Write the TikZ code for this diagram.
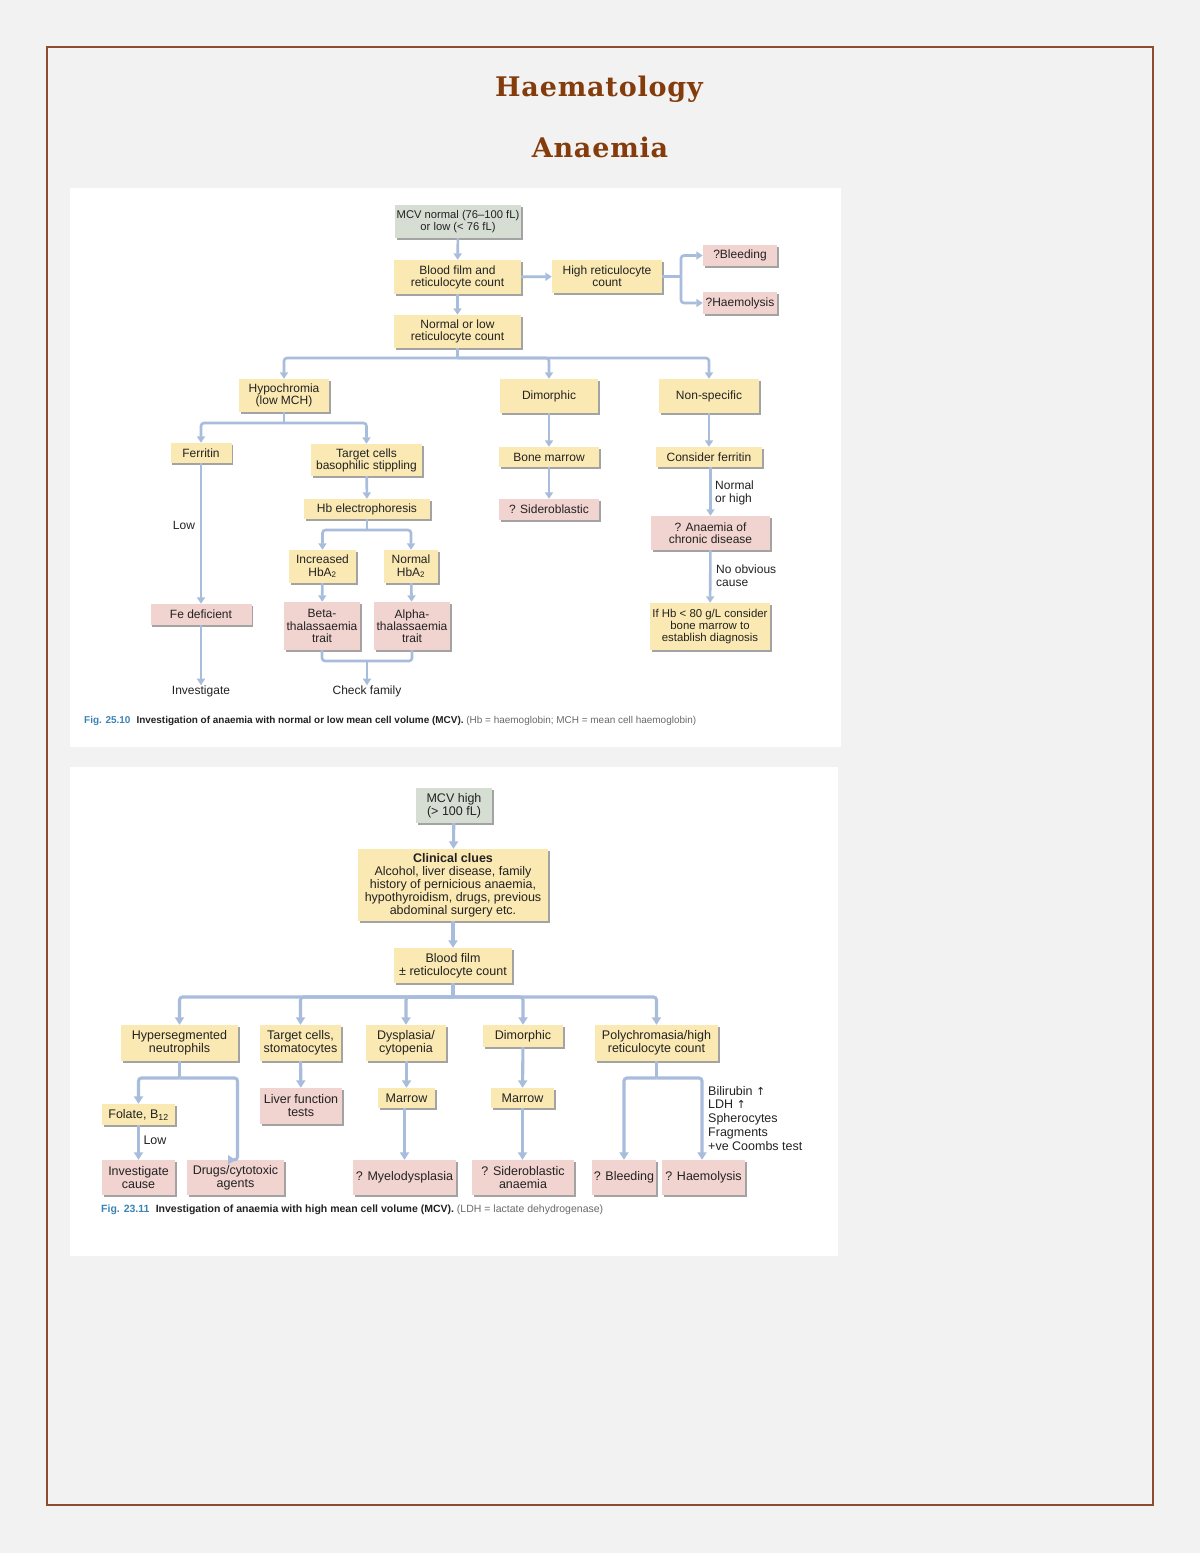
\documentclass[tikz,border=0pt]{standalone}
\usepackage{fontspec}
\setmainfont{Liberation Sans}
\newfontfamily\titlefont{DejaVu Serif}[LetterSpace=3]
\newfontfamily\dejavu{DejaVu Sans}
\usetikzlibrary{arrows.meta,shadows,calc}
\definecolor{bgc}{HTML}{F2F2F2}
\definecolor{brd}{HTML}{8E4B2E}
\definecolor{ttl}{HTML}{843C0C}
\definecolor{greyf}{HTML}{D6DED4}
\definecolor{yelf}{HTML}{FBE9B3}
\definecolor{pinkf}{HTML}{F1D3D0}
\definecolor{arrc}{HTML}{A8BCDC}
\definecolor{capb}{HTML}{3A84B5}
\definecolor{capg}{HTML}{6A6A6A}
\definecolor{txt}{HTML}{222222}
\tikzset{
  bx/.style={inner sep=1pt, align=center, text=txt, font=\fontsize{12}{12.2}\selectfont,
    drop shadow={shadow xshift=1.6pt, shadow yshift=-1.6pt, fill=black!45, opacity=0.8}},
  bxl/.style={bx, font=\fontsize{12.5}{13}\selectfont},
  gb/.style={fill=greyf}, yb/.style={fill=yelf}, pb/.style={fill=pinkf},
  sz/.style 2 args={minimum width=#1, minimum height=#2},
  lbl/.style={inner sep=0pt, align=left, text=txt, font=\fontsize{12}{12.5}\selectfont},
  lbll/.style={lbl, font=\fontsize{12.5}{13.5}\selectfont},
  ln/.style={draw=arrc, line width=2.6pt, rounded corners=3pt},
  arr/.style={ln, -{Triangle[length=6.5pt,width=8pt]}},
  lnl/.style={draw=arrc, line width=3.1pt, rounded corners=3pt},
  arrl/.style={lnl, -{Triangle[length=7.5pt,width=9pt]}},
}
\begin{document}
\begin{tikzpicture}[x=1pt,y=-1pt]
\fill[bgc] (0,0) rectangle (1200,1553);
\useasboundingbox (0,0) rectangle (1200,1553);
\draw[brd, line width=1.6pt] (47,47) rectangle (1153,1505);
\node[text=ttl, font=\titlefont\bfseries\fontsize{27}{30}\selectfont] (t1) at (599,89) {Haematology};
\node[text=ttl, font=\titlefont\bfseries\fontsize{27}{30}\selectfont] (t2) at (600,147) {Anaemia};
\fill[white] (70,188) rectangle (841,747);
\fill[white] (70,767) rectangle (838,1256);

% ---------- top diagram ----------
\node[bx,gb,sz={126pt}{33pt}, font=\fontsize{11.2}{12}\selectfont] (mcv) at (458,221.5) {MCV normal (76–100 fL)\\or low (< 76 fL)};
\node[bx,yb,sz={127pt}{34pt}] (bf) at (457.5,277) {Blood film and\\reticulocyte count};
\node[bx,yb,sz={110pt}{33pt}] (hr) at (607,276.5) {High reticulocyte\\count};
\node[bx,pb,sz={74pt}{21pt}] (bleed) at (740,255.5) {?Bleeding};
\node[bx,pb,sz={74pt}{22pt}] (haem) at (740,303) {?Haemolysis};
\node[bx,yb,sz={127pt}{33pt}] (nl) at (457.5,331.5) {Normal or low\\reticulocyte count};
\node[bx,yb,sz={90pt}{33pt}] (hypo) at (284,395.5) {Hypochromia\\(low MCH)};
\node[bx,yb,sz={98pt}{34pt}] (dim) at (549,396) {Dimorphic};
\node[bx,yb,sz={100pt}{34pt}] (ns) at (709,396) {Non-specific};
\node[bx,yb,sz={61pt}{20pt}] (fer) at (201,453) {Ferritin};
\node[bx,yb,sz={111pt}{32pt}] (tc) at (366.5,460) {Target cells\\basophilic stippling};
\node[bx,yb,sz={126pt}{20pt}] (hbe) at (367,509) {Hb electrophoresis};
\node[bx,yb,sz={67pt}{33pt}] (inc) at (322.5,566.5) {Increased\\HbA\textsubscript{2}};
\node[bx,yb,sz={54pt}{33pt}] (nor) at (411,566.5) {Normal\\HbA\textsubscript{2}};
\node[bx,pb,sz={76pt}{48pt}] (beta) at (322,626) {Beta-\\thalassaemia\\trait};
\node[bx,pb,sz={76pt}{48pt}] (alpha) at (412,626) {Alpha-\\thalassaemia\\trait};
\node[bx,pb,sz={101pt}{21pt}] (fe) at (201,614.5) {Fe deficient};
\node[lbl] (inv) at (201,691) {Investigate};
\node[lbl] (chk) at (367,691) {Check family};
\node[lbl] (low1) at (184,525) {Low};
\node[bx,yb,sz={100pt}{20pt}] (bm) at (549,457) {Bone marrow};
\node[bx,pb,sz={100pt}{21pt}] (sid) at (549,509.5) {? Sideroblastic};
\node[bx,yb,sz={106pt}{20pt}] (cf) at (709,457) {Consider ferritin};
\node[bx,pb,sz={119pt}{34pt}] (acd) at (710.5,533) {? Anaemia of\\chronic disease};
\node[bx,yb,sz={120pt}{47pt}, font=\fontsize{11.4}{12}\selectfont] (hb80) at (710,626.5) {If Hb < 80 g/L consider\\bone marrow to\\establish diagnosis};
\node[lbl, anchor=west] (noh) at (715,493) {Normal\\or high};
\node[lbl, anchor=west] (noc) at (716,575.5) {No obvious\\cause};

\coordinate (hrj) at (681,276.5);
\coordinate (b1) at (457.5,358);
\coordinate (b2) at (284,423);
\coordinate (b3) at (367,530);
\coordinate (cfj) at (367,661);

\draw[arr] (mcv) -- (bf);
\draw[arr] (bf) -- (hr);
\draw[ln] (hr.east) -- (hrj);
\draw[arr] (hrj) |- (bleed.west);
\draw[arr] (hrj) |- (haem.west);
\draw[arr] (bf) -- (nl);
\draw[ln] (nl.south) -- (b1);
\draw[arr] (b1) -| (hypo.north);
\draw[arr] (b1) -| (dim.north);
\draw[arr] (b1) -| (ns.north);
\draw[ln] (hypo.south) -- (b2);
\draw[arr] (b2) -| (fer.north);
\draw[arr] (b2) -| (tc.north);
\draw[arr] (tc) -- (hbe);
\draw[ln] (hbe.south) -- (b3);
\draw[arr] (b3) -| (inc.north);
\draw[arr] (b3) -| (nor.north);
\draw[arr] (inc) -- (beta);
\draw[arr] (nor) -- (alpha);
\draw[ln] (beta.south) |- (cfj);
\draw[ln] (alpha.south) |- (cfj);
\draw[arr] (cfj) -- (chk.north);
\draw[arr] (fer) -- (fe);
\draw[arr] (fe) -- (inv.north);
\draw[arr] (dim) -- (bm);
\draw[arr] (bm) -- (sid);
\draw[arr] (ns) -- (cf);
\draw[arr] (cf.south -| acd.north) -- (acd.north);
\draw[arr] (acd) -- (hb80);

\node[anchor=west, inner sep=0pt] (cap1) at (84,721) {\resizebox{612pt}{!}{\fontsize{9}{10}\selectfont\textbf{\textcolor{capb}{Fig. 25.10}}\hspace{0.6em}\textbf{\textcolor{txt}{Investigation of anaemia with normal or low mean cell volume (MCV).}} \textcolor{capg}{(Hb = haemoglobin; MCH = mean cell haemoglobin)}}};

% ---------- bottom diagram ----------
\node[bxl,gb,sz={76pt}{35pt}] (mh) at (454,805.5) {MCV high\\(> 100 fL)};
\node[bxl,yb,sz={190pt}{72pt}] (cc) at (453,885) {\textbf{Clinical clues}\\Alcohol, liver disease, family\\history of pernicious anaemia,\\hypothyroidism, drugs, previous\\abdominal surgery etc.};
\node[bxl,yb,sz={118pt}{35pt}] (bf2) at (453,965.5) {Blood film\\± reticulocyte count};
\node[bxl,yb,sz={117pt}{36pt}] (hs) at (179.5,1043) {Hypersegmented\\neutrophils};
\node[bxl,yb,sz={81pt}{36pt}] (ts) at (300.5,1043) {Target cells,\\stomatocytes};
\node[bxl,yb,sz={80pt}{36pt}] (dys) at (406,1043) {Dysplasia/\\cytopenia};
\node[bxl,yb,sz={80pt}{22pt}] (dim2) at (523,1036) {Dimorphic};
\node[bxl,yb,sz={123pt}{36pt}] (poly) at (656.5,1043) {Polychromasia/high\\reticulocyte count};
\node[bxl,yb,sz={73pt}{21pt}] (fol) at (138.5,1114.5) {Folate, B\textsubscript{12}};
\node[bxl,pb,sz={73pt}{35pt}] (ic) at (138.5,1177.5) {Investigate\\cause};
\node[bxl,pb,sz={97pt}{35pt}] (drg) at (235.5,1177.5) {Drugs/cytotoxic\\agents};
\node[bxl,pb,sz={82pt}{36pt}] (lft) at (301,1106) {Liver function\\tests};
\node[bxl,yb,sz={57pt}{20pt}] (mar1) at (406.5,1098) {Marrow};
\node[bxl,pb,sz={103pt}{35pt}] (myd) at (404.5,1177.5) {? Myelodysplasia};
\node[bxl,yb,sz={63pt}{20pt}] (mar2) at (522.5,1098) {Marrow};
\node[bxl,pb,sz={102pt}{35pt}] (sa) at (523,1177.5) {? Sideroblastic\\anaemia};
\node[bxl,pb,sz={64pt}{35pt}] (bl2) at (624,1177.5) {? Bleeding};
\node[bxl,pb,sz={83pt}{35pt}] (hm2) at (703.5,1177.5) {? Haemolysis};
\node[lbll] (low2) at (155,1140) {Low};
\node[lbll, anchor=north west, font=\fontsize{12.5}{13.7}\selectfont] (hml) at (708,1086) {Bilirubin {\dejavu\fontsize{11}{13}\selectfont ↑}\\LDH {\dejavu\fontsize{11}{13}\selectfont ↑}\\Spherocytes\\Fragments\\+ve Coombs test};

\coordinate (c1) at (453,997);
\coordinate (c2) at (179.5,1078);
\coordinate (c3) at (656.5,1078);

\draw[arrl] (mh) -- (cc);
\draw[arrl] (cc) -- (bf2);
\draw[lnl] (bf2.south) -- (c1);
\draw[arrl] (c1) -| (hs.north);
\draw[arrl] (c1) -| (ts.north);
\draw[arrl] (c1) -| (dys.north);
\draw[arrl] (c1) -| (dim2.north);
\draw[arrl] (c1) -| (poly.north);
\draw[lnl] (hs.south) -- (c2);
\draw[arrl] (c2) -| (fol.north);
\draw[arrl] (c2) -| ([xshift=58pt]hs.south |- drg.north) -- (drg.north);
\draw[arrl] (ts) -- (lft);
\draw[arrl] (dys.south -| mar1.north) -- (mar1.north);
\draw[arrl] (mar1.south -| myd.north) -- (myd.north);
\draw[arrl] (dim2) -- (mar2);
\draw[arrl] (mar2) -- (mar2 |- sa.north);
\draw[arrl] (fol) -- (ic);
\draw[lnl] (poly.south) -- (c3);
\draw[arrl] (c3) -| (bl2.north);
\draw[arrl] (c3) -| ([xshift=-1.5pt]hm2.north);

\node[anchor=west, inner sep=0pt] (cap2) at (101,1210) {\resizebox{502pt}{!}{\fontsize{9}{10}\selectfont\textbf{\textcolor{capb}{Fig. 23.11}}\hspace{0.6em}\textbf{\textcolor{txt}{Investigation of anaemia with high mean cell volume (MCV).}} \textcolor{capg}{(LDH = lactate dehydrogenase)}}};
\end{tikzpicture}
\end{document}
